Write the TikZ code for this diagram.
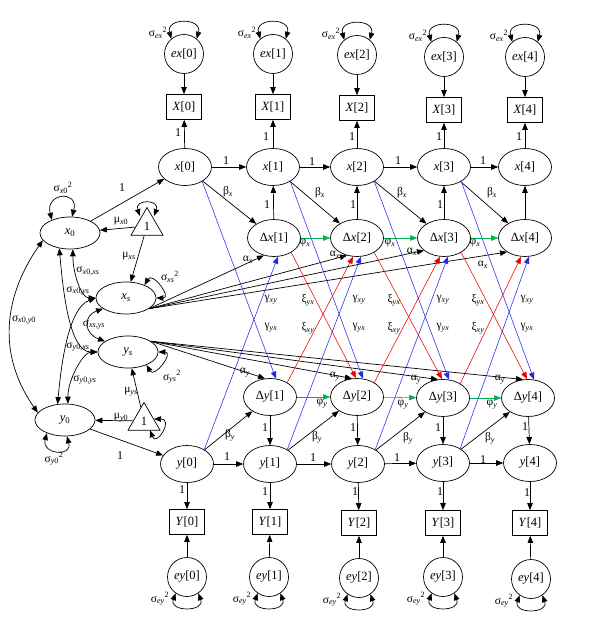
\documentclass[tikz,border=0pt]{standalone}
\usepackage{fontspec}
\setmainfont{Liberation Serif}
\usetikzlibrary{shapes.geometric,arrows.meta,calc}
\definecolor{gcol}{RGB}{0,176,80}
\definecolor{bcol}{RGB}{40,40,225}
\definecolor{rcol}{RGB}{235,0,0}
\newcommand{\gsub}[2]{#1\textsubscript{#2}}
\newcommand{\gss}[3]{#1\textsubscript{#2}\textsuperscript{#3}}
\begin{document}
\begin{tikzpicture}[x=1pt,y=1pt,
 every node/.style={font=\fontsize{12.5}{14}\selectfont},
 lat/.style={ellipse,draw,line width=0.7pt,minimum width=53pt,minimum height=37pt,inner sep=0pt},
 lat0/.style={ellipse,draw,line width=0.7pt,minimum width=60pt,minimum height=32pt,inner sep=0pt},
 err/.style={circle,draw,line width=0.7pt,minimum size=39pt,inner sep=0pt},
 obs/.style={rectangle,draw,line width=0.7pt,minimum width=35pt,minimum height=25pt,inner sep=0pt},
 con/.style={regular polygon,regular polygon sides=3,draw,line width=0.7pt,minimum size=37pt,inner sep=0pt},
 arr/.style={-{Triangle[length=7pt,width=5.5pt]},line width=0.7pt},
 dbl/.style={{Triangle[length=7pt,width=5.5pt]}-{Triangle[length=7pt,width=5.5pt]},line width=0.7pt},
 carr/.style={arr,line width=0.55pt},
 lab/.style={font=\fontsize{11.5}{13}\selectfont,inner sep=0pt},
 one/.style={font=\fontsize{12}{13}\selectfont,inner sep=0pt}]
\useasboundingbox (0,0) rectangle (588,-620);
\fill[white] (0,0) rectangle (588,-620);

% ---------- column nodes ----------
\foreach \i/\px/\py in {0/184/54,1/273/54,2/357/55,3/444/57,4/525/57}{
  \node[err] (ex\i) at (\px,-\py) {\textit{ex}[\i]};
  \draw[dbl] (ex\i.130) .. controls +(105:22) and +(75:22) .. (ex\i.50);
  \node[lab] at ($(ex\i)+(-26,21)$) {\gss{σ}{\textit{ex}}{2}};
}
\foreach \i/\px/\py in {0/184/107,1/273/107,2/357/108,3/444/110,4/525/110}
  \node[obs] (ob\i) at (\px,-\py) {\textit{X}[\i]};
\foreach \i/\px/\py in {0/185/167,1/273/167,2/357/167,3/444/167,4/525/167}
  \node[lat] (lx\i) at (\px,-\py) {\textit{x}[\i]};
\foreach \i/\px/\py in {1/274/238,2/357/238,3/444/238,4/525/238}
  \node[lat] (dx\i) at (\px,-\py) {Δ\textit{x}[\i]};
\foreach \i/\px/\py in {1/270/397,2/357/397,3/443/398,4/528/398}
  \node[lat] (dy\i) at (\px,-\py) {Δ\textit{y}[\i]};
\foreach \i/\px/\py in {0/187/464,1/270/464,2/358/464,3/443/463,4/530/463}
  \node[lat] (ly\i) at (\px,-\py) {\textit{y}[\i]};
\foreach \i/\px/\py in {0/187/522,1/270/522,2/359/523,3/443/523,4/530/523}
  \node[obs] (oy\i) at (\px,-\py) {\textit{Y}[\i]};
\foreach \i/\px/\py in {0/187/577,1/269/577,2/359/578,3/443/577,4/531/579}{
  \node[err] (ey\i) at (\px,-\py) {\textit{ey}[\i]};
  \draw[dbl] (ey\i.235) .. controls +(250:20) and +(290:20) .. (ey\i.305);
  \node[lab] at ($(ey\i)+(-27,-22)$) {\gss{σ}{\textit{ey}}{2}};
}

% ---------- left nodes ----------
\node[lat0] (xz) at (70,-233) {\textit{x}\textsubscript{0}};
\node[lat0] (xs) at (126,-298) {\textit{x}\textsubscript{\textit{s}}};
\node[lat0] (ys) at (128,-352) {\textit{y}\textsubscript{\textit{s}}};
\node[lat0] (yz) at (65,-420) {\textit{y}\textsubscript{0}};
\node[con] (ta) at (147,-226) {1};
\node[con] (tb) at (144,-421) {1};

% ---------- measurement ----------
\foreach \i in {0,...,4}{
  \draw[arr] (ex\i) -- (ob\i);
  \draw[arr] (lx\i) -- (ob\i);
  \draw[arr] (ly\i) -- (oy\i);
  \draw[arr] (ey\i) -- (oy\i);
}
\foreach \i in {1,...,4}{
  \draw[arr] (dx\i) -- (lx\i);
  \draw[arr] (dy\i) -- (ly\i);
  \draw[arr] (xs.-25) -- (dx\i.\ifnum\i=3 212\else\ifnum\i=4 218\else 240\fi\fi);
  \draw[arr] (ys.25) -- (dy\i.105);
}
\foreach \j/\i in {0/1,1/2,2/3,3/4}{
  \draw[arr] (lx\j) -- (lx\i);
  \draw[arr] (ly\j) -- (ly\i);
  \draw[arr] (lx\j) -- (dx\i);
  \draw[arr] (ly\j) -- (dy\i);
  \draw[carr,bcol] (lx\j.-40) -- (dy\i.72);
  \draw[carr,bcol] (ly\j.40) -- (dx\i.282);
}
\foreach \j/\i in {1/2,2/3,3/4}{
  \draw[carr,gcol] (dx\j) -- (dx\i);
  \draw[carr,gcol] (dy\j) -- (dy\i);
  \draw[carr,rcol] (dx\j.-40) -- (dy\i.93);
  \draw[carr,rcol] (dy\j.40) -- (dx\i.258);
}

% ---------- left structure ----------
\draw[arr] (xz) -- (lx0);
\draw[arr] (yz) -- (ly0);
\draw[arr] (ta) -- (xz);
\draw[arr] (ta) -- (xs);
\draw[arr] (tb) -- (yz);
\draw[arr] (tb) -- (ys);
% self loops
\draw[dbl] (xz.144) .. controls +(105:28) and +(75:28) .. (xz.83);
\draw[dbl] (yz.216) .. controls +(255:22) and +(285:22) .. (yz.277);
\draw[dbl] (xs.35) .. controls +(60:16) and +(0:16) .. (xs.0);
\draw[dbl] (ys.0) .. controls +(0:16) and +(-60:16) .. (ys.-35);
\draw[dbl] ($(ta.center)+(-7,10)$) .. controls +(110:18) and +(70:18) .. ($(ta.center)+(7,10)$);
\draw[dbl] ($(tb.center)+(10,2)$) .. controls +(0:20) and +(-70:18) .. ($(tb.center)+(6,-9.25)$);
% covariances
\draw[dbl] (xz.195) .. controls +(235:70) and +(125:70) .. (yz.165);
\draw[dbl] (xz.280) .. controls +(270:25) and +(180:14) .. (xs.west);
\draw[dbl] (xz.235) .. controls +(275:45) and +(180:28) .. (ys.west);
\draw[dbl] (yz.115) .. controls +(85:45) and +(200:28) .. (xs.west);
\draw[dbl] (yz.80) .. controls +(90:25) and +(180:14) .. (ys.west);
\draw[dbl] (xs.205) .. controls +(200:22) and +(160:22) .. (ys.155);

% ---------- labels ----------
\node[lab] at (63,-188) {\gss{σ}{\textit{x}0}{2}};
\node[lab] at (170,-277) {\gss{σ}{\textit{xs}}{2}};
\node[lab] at (172,-377) {\gss{σ}{\textit{ys}}{2}};
\node[lab] at (54,-459) {\gss{σ}{\textit{y}0}{2}};
\node[lab] at (24,-320) {\gsub{σ}{\textit{x}0,\textit{y}0}};
\node[lab] at (88,-271) {\gsub{σ}{\textit{x}0,\textit{xs}}};
\node[lab] at (78,-291) {\gsub{σ}{\textit{x}0,\textit{ys}}};
\node[lab] at (94,-325) {\gsub{σ}{\textit{xs},\textit{ys}}};
\node[lab] at (78,-347) {\gsub{σ}{\textit{y}0,\textit{xs}}};
\node[lab] at (85,-380) {\gsub{σ}{\textit{y}0,\textit{ys}}};
\node[lab] at (121,-221) {\gsub{μ}{\textit{x}0}};
\node[lab] at (129,-256) {\gsub{μ}{\textit{xs}}};
\node[lab] at (121,-418) {\gsub{μ}{\textit{y}0}};
\node[lab] at (131,-392) {\gsub{μ}{\textit{ys}}};
\node[one] at (122,-188) {1};
\node[one] at (120,-456) {1};

\foreach \px/\py in {228/192,320/193,402/193,492/193}
  \node[lab] at (\px,-\py) {\gsub{β}{\textit{x}}};
\foreach \px/\py in {230/435,317/437,408/438,490/438}
  \node[lab] at (\px,-\py) {\gsub{β}{\textit{y}}};
\foreach \px/\py in {305/243,390/243,475/243}
  \node[lab] at (\px,-\py) {\gsub{φ}{\textit{x}}};
\foreach \px/\py in {322/404,403/405,492/405}
  \node[lab] at (\px,-\py) {\gsub{φ}{\textit{y}}};
\foreach \px/\py in {248/260,335/255,412/252,483/265}
  \node[lab] at (\px,-\py) {\gsub{α}{\textit{x}}};
\foreach \px/\py in {245/373,335/377,416/380,500/380}
  \node[lab] at (\px,-\py) {\gsub{α}{\textit{y}}};
\foreach \px in {271,359,443,527}{
  \node[lab] at (\px,-300) {\gsub{γ}{\textit{xy}}};
  \node[lab] at (\px,-328) {\gsub{γ}{\textit{yx}}};
}
\foreach \px in {308,394,478}{
  \node[lab] at (\px,-300) {\gsub{ξ}{\textit{yx}}};
  \node[lab] at (\px,-328) {\gsub{ξ}{\textit{xy}}};
}
\foreach \px/\py in {226/161,312/162,398/161,483/161,
                     178/133,266/137,352/137,439/137,519/137,
                     267/205,353/205,440/205,
                     265/428,353/428,438/428,525/427,
                     227/457,313/458,397/458,483/460,
                     182/490,265/492,355/492,440/492,527/493}
  \node[one] at (\px,-\py) {1};
\end{tikzpicture}
\end{document}
